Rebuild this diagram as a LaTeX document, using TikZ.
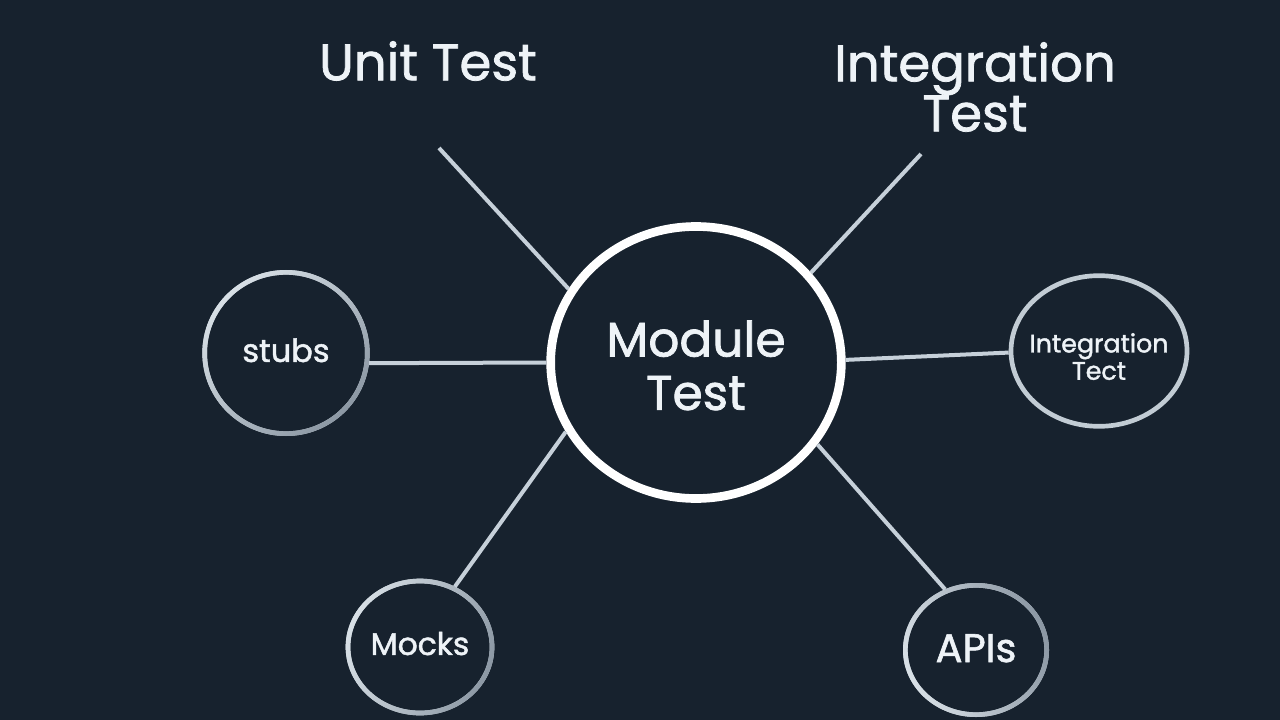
\documentclass[tikz,border=0pt]{standalone}
\usepackage{fontspec}
\usetikzlibrary{shapes.geometric}
\setmainfont{Poppins}[FakeBold=1.5]
\definecolor{bg}{HTML}{17222E}
\definecolor{ink}{HTML}{EEF3F7}
\definecolor{ringc}{HTML}{C2CCD4}
\definecolor{ringlight}{HTML}{D8E0E6}
\definecolor{ringdark}{HTML}{8C98A4}
\definecolor{linec}{HTML}{C6D0D9}
\newcommand{\fsz}[2]{\fontsize{#1}{#2}\selectfont}
\newcommand{\stack}[2]{\raisebox{#1}[0pt][0pt]{\makebox[0pt][c]{\begin{tabular}{@{}c@{}}#2\end{tabular}}}}
\newcommand{\ringover}[4]{\shade[even odd rule,top color=ringlight,bottom color=ringdark,shading angle=#4]
  (#1.center) ellipse[x radius=#2+1.75pt,y radius=#3+1.75pt]
  (#1.center) ellipse[x radius=#2-1.75pt,y radius=#3-1.75pt];}
\tikzset{
  hub/.style={ellipse,draw=white,line width=6.5pt,fill=bg,text=ink,inner sep=0pt,align=center,
    minimum width=218pt,minimum height=204pt},
  sat/.style={ellipse,draw=ringc,line width=3.5pt,fill=bg,text=ink,inner sep=0pt,align=center},
  link/.style={draw=linec,line width=3pt},
  headline/.style={text=ink,align=center,font=\fsz{38.5}{37.5}}
}
\begin{document}
\begin{tikzpicture}[x=0.75pt,y=-0.75pt]
\useasboundingbox[fill=bg] (0,0) rectangle (1280,720);
\node[hub,font=\fsz{36.5}{40}] (module) at (696,362.5) {\stack{-13.75pt}{Module\\Test}};
\node[sat,minimum width=122pt,minimum height=121pt,font=\fsz{24}{26}] (stubs) at (286,353) {\stack{-7.75pt}{stubs}};
\node[sat,minimum width=132pt,minimum height=113pt,font=\fsz{19}{20.5}] (integ) at (1099,351) {\stack{-11.5pt}{Integration\\Tect}};
\node[sat,minimum width=108pt,minimum height=99pt,font=\fsz{23.5}{26}] (mocks) at (420,647) {\stack{-7pt}{Mocks}};
\node[sat,minimum width=106pt,minimum height=97pt,font=\fsz{30}{30}] (apis) at (976,650) {\stack{-9.25pt}{APIs}};
\ringover{stubs}{61pt}{60.5pt}{45}
\ringover{mocks}{54pt}{49.5pt}{70}
\ringover{apis}{53pt}{48.5pt}{110}
\node[headline] (unit) at (428,61) {Unit Test};
\node[headline] (integt) at (975,87) {Integration\\Test};
\coordinate (ufree) at (439,148);
\coordinate (ifree) at (921,154);
\draw[link] (ufree) -- (module.150.6);
\draw[link] (ifree) -- (module.38.4);
\draw[link] (stubs.353) -- (module.180);
\draw[link] (integ.181) -- (module.1);
\draw[link] (mocks.60) -- (module.208);
\draw[link] (apis.117) -- (module.326.5);
\end{tikzpicture}
\end{document}
